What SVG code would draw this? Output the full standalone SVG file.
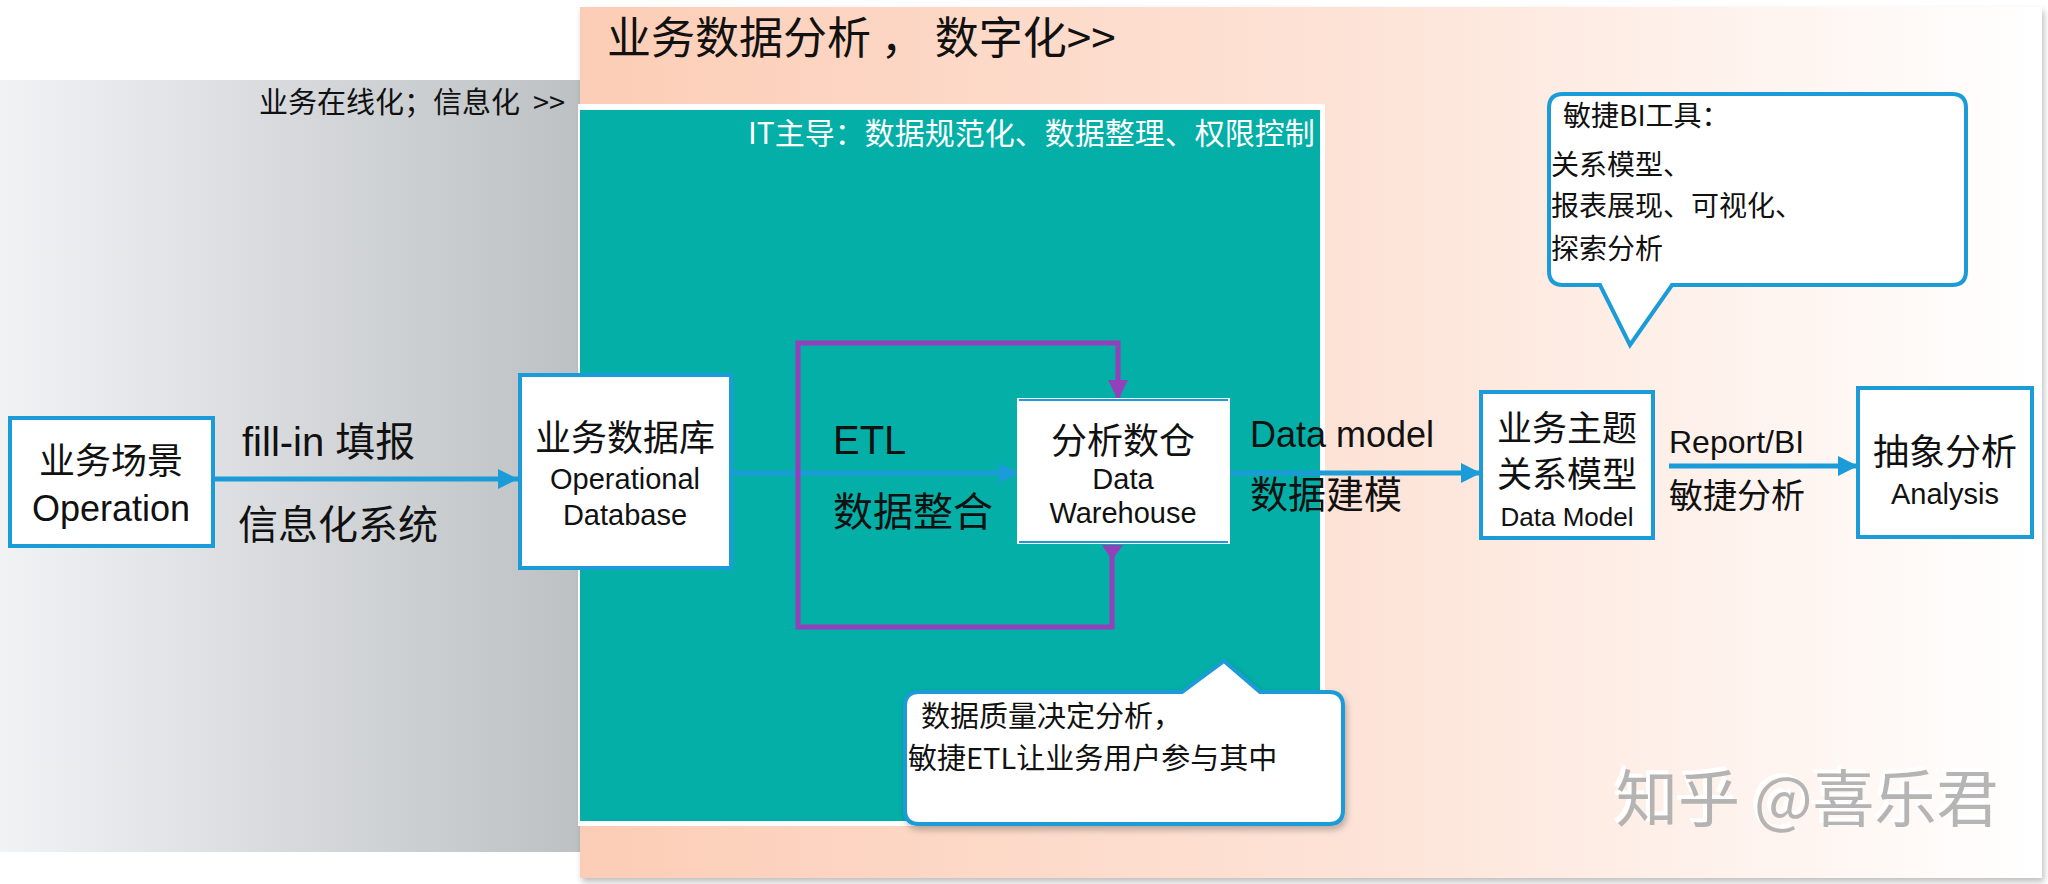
<svg xmlns="http://www.w3.org/2000/svg" width="2048" height="884" viewBox="0 0 2048 884">
<defs>
<linearGradient id="grayGrad" x1="0" y1="0" x2="1" y2="0">
<stop offset="0" stop-color="#f1f2f4"/>
<stop offset="1" stop-color="#bdc1c4"/>
</linearGradient>
<linearGradient id="peachGrad" x1="0" y1="0" x2="1" y2="0">
<stop offset="0" stop-color="#fccdb6"/>
<stop offset="0.55" stop-color="#fde4d8"/>
<stop offset="1" stop-color="#ffffff"/>
</linearGradient>
<filter id="shadow" x="-5%" y="-5%" width="110%" height="115%">
<feDropShadow dx="2" dy="4" stdDeviation="3" flood-color="#000" flood-opacity="0.25"/>
</filter>
<marker id="blueArrow" viewBox="0 0 10 10" refX="10" refY="5" markerWidth="4" markerHeight="4" markerUnits="strokeWidth" orient="auto">
<path d="M0,0 L10,5 L0,10 z" fill="#1b9bd7"/>
</marker>
<marker id="purpleArrow" viewBox="0 0 10 10" refX="10" refY="5" markerWidth="4" markerHeight="4" markerUnits="strokeWidth" orient="auto">
<path d="M0,0 L10,5 L0,10 z" fill="#9440bb"/>
</marker>
<style>
.cjk{font-family:"Noto Sans CJK SC","Liberation Sans",sans-serif;fill:#111;}
.lat{font-family:"Liberation Sans","Noto Sans CJK SC",sans-serif;fill:#111;}
.box{fill:#fff;stroke:#1b9bd7;stroke-width:4;}
.mid{text-anchor:middle;}
.flow{stroke:#1b9bd7;stroke-width:5;fill:none;}
.loop{stroke:#9440bb;stroke-width:5;fill:none;}
.callout{fill:#fff;stroke:#1b9bd7;stroke-width:4;}
</style>
</defs>

<g id="backgrounds">
<rect x="0" y="80" width="580" height="772" fill="url(#grayGrad)"/>
<rect x="580" y="7" width="1462" height="871" fill="url(#peachGrad)" filter="url(#shadow)"/>
<rect x="578" y="104" width="747" height="722" fill="#ffffff"/>
<rect x="580" y="110" width="740" height="711" fill="#03afa7"/>
</g>

<g id="titles">
<text class="cjk" x="607" y="54" font-size="44" xml:space="preserve">业务数据分析 ， 数字化&gt;&gt;</text>
<text class="cjk" x="259" y="113" font-size="29" xml:space="preserve">业务在线化；信息化  &gt;&gt;</text>
<text class="cjk" x="748" y="144" font-size="30" style="fill:#ffffff">IT主导：数据规范化、数据整理、权限控制</text>
</g>

<g id="connectors">
<line class="flow" x1="213" y1="479" x2="518" y2="479" marker-end="url(#blueArrow)"/>
<line class="flow" x1="731" y1="473" x2="1019" y2="473" marker-end="url(#blueArrow)"/>
<line class="flow" x1="1228" y1="473" x2="1481" y2="473" marker-end="url(#blueArrow)"/>
<line class="flow" x1="1669" y1="466" x2="1858" y2="466" marker-end="url(#blueArrow)"/>
<polyline class="loop" points="1112,552 1112,627 798,627 798,343 1118,343 1118,400" marker-end="url(#purpleArrow)"/>
<path d="M1102,545 L1123,545 L1112,560 z" fill="#9440bb"/>
</g>

<g id="edge-labels">
<text class="lat" x="242" y="456" font-size="40">fill-in 填报</text>
<text class="cjk" x="238" y="539" font-size="40">信息化系统</text>
<text class="lat" x="833" y="454" font-size="40">ETL</text>
<text class="cjk" x="833" y="526" font-size="40">数据整合</text>
<text class="lat" x="1250" y="447" font-size="36">Data model</text>
<text class="cjk" x="1250" y="508" font-size="38">数据建模</text>
<text class="lat" x="1669" y="453" font-size="32">Report/BI</text>
<text class="cjk" x="1669" y="508" font-size="34">敏捷分析</text>
</g>

<g id="node-operation">
<rect class="box" x="10" y="418" width="203" height="128"/>
<text class="cjk mid" x="111" y="474" font-size="36">业务场景</text>
<text class="lat mid" x="111" y="521" font-size="36">Operation</text>
</g>

<g id="node-operational-db">
<rect class="box" x="520" y="375" width="211" height="193"/>
<text class="cjk mid" x="625" y="451" font-size="36">业务数据库</text>
<text class="lat mid" x="625" y="489" font-size="29">Operational</text>
<text class="lat mid" x="625" y="525" font-size="29">Database</text>
</g>

<g id="node-warehouse">
<rect class="box" x="1019" y="400" width="209" height="142" style="stroke:#ffffff"/>
<line x1="1019" y1="400" x2="1228" y2="400" stroke="#1b9bd7" stroke-width="2"/>
<line x1="1019" y1="542" x2="1228" y2="542" stroke="#1b9bd7" stroke-width="2"/>
<text class="cjk mid" x="1123" y="454" font-size="36">分析数仓</text>
<text class="lat mid" x="1123" y="489" font-size="29">Data</text>
<text class="lat mid" x="1123" y="523" font-size="29">Warehouse</text>
</g>

<g id="node-data-model">
<rect class="box" x="1481" y="392" width="172" height="146"/>
<text class="cjk mid" x="1567" y="441" font-size="35">业务主题</text>
<text class="cjk mid" x="1567" y="487" font-size="35">关系模型</text>
<text class="lat mid" x="1567" y="526" font-size="26">Data Model</text>
</g>

<g id="node-analysis">
<rect class="box" x="1858" y="388" width="174" height="149"/>
<text class="cjk mid" x="1945" y="465" font-size="36">抽象分析</text>
<text class="lat mid" x="1945" y="504" font-size="29">Analysis</text>
</g>

<g id="callout-bi">
<path class="callout" d="M1563,94 H1952 Q1966,94 1966,108 V271 Q1966,285 1952,285 H1672 L1630,345 L1600,285 H1563 Q1549,285 1549,271 V108 Q1549,94 1563,94 Z"/>
<text class="cjk" x="1563" y="126" font-size="28">敏捷BI工具：</text>
<text class="cjk" x="1551" y="175" font-size="28">关系模型、</text>
<text class="cjk" x="1551" y="216" font-size="28">报表展现、可视化、</text>
<text class="cjk" x="1551" y="259" font-size="28">探索分析</text>
</g>

<g id="callout-etl">
<path class="callout" filter="url(#shadow)" d="M919,692 H1182 L1224,661 L1260,692 H1329 Q1343,692 1343,706 V810 Q1343,824 1329,824 H919 Q905,824 905,810 V706 Q905,692 919,692 Z"/>
<text class="cjk" x="921" y="727" font-size="29">数据质量决定分析，</text>
<text class="cjk" x="908" y="769" font-size="29">敏捷ETL让业务用户参与其中</text>
</g>

<g id="watermark">
<text x="1612" y="818" font-size="62" font-family="'Noto Sans CJK SC',sans-serif" fill="#ffffff">知乎 @喜乐君</text>
<text x="1616" y="822" font-size="62" font-family="'Noto Sans CJK SC',sans-serif" fill="#a8a8a8" fill-opacity="0.85">知乎 @喜乐君</text>
</g>
</svg>
